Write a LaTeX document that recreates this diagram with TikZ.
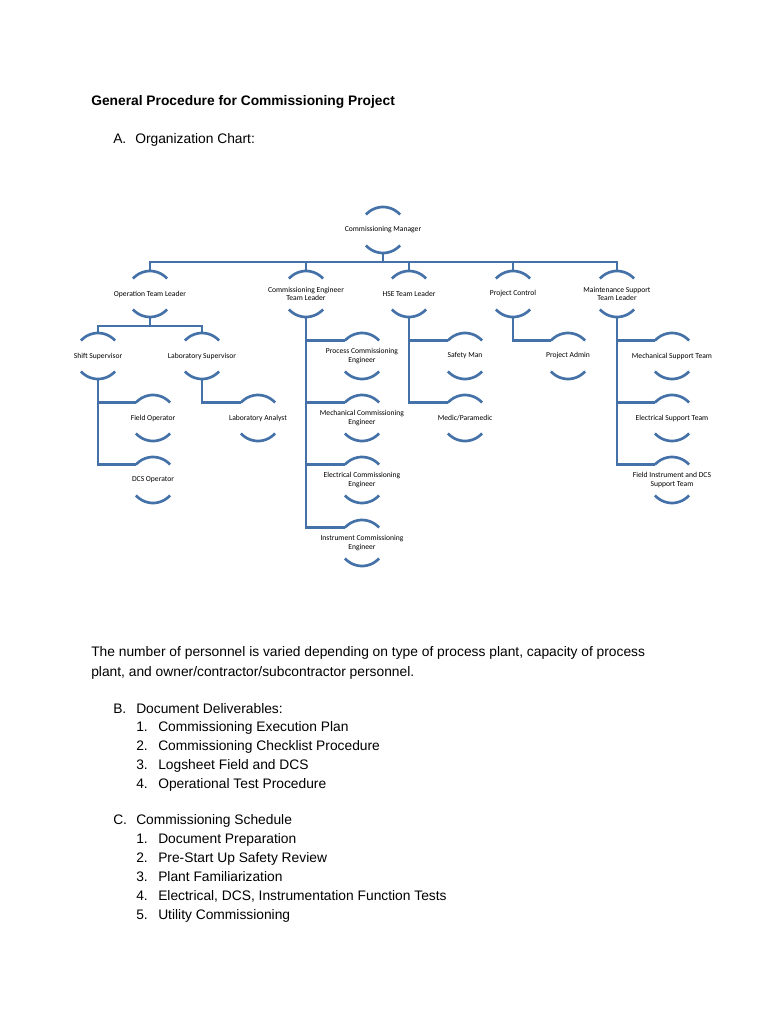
\documentclass[tikz,border=0pt]{standalone}
\usepackage{fontspec}
\setmainfont{Liberation Sans}
\newfontfamily\chartfont{Carlito}
\definecolor{orgblue}{RGB}{68,114,168}

\tikzset{
  chartlbl/.style={font=\chartfont\fontsize{5.7}{6.6}\selectfont, align=center, inner sep=0pt},
  member/.style={circle, minimum size=34.5pt, inner sep=0pt, outer sep=0pt,
    label={[chartlbl]center:#1}},
  link/.style={draw=orgblue, line width=2.2pt},
  arcline/.style={draw=orgblue, line width=2pt},
  body/.style={anchor=base west, inner sep=0pt, font=\fontsize{10.35}{12.5}\selectfont},
}

\begin{document}
\begin{tikzpicture}[x=0.75pt,y=-0.75pt]
\useasboundingbox (0,0) rectangle (768,1024);

% heading
\node[body,font=\bfseries\fontsize{10.35}{12.5}\selectfont] (title) at (91,105) {General Procedure for Commissioning Project};
\node[body] (secA) at (113,143) {A.};
\node[body] (secAt) at (135,143) {Organization Chart:};

% chart members
\node[member={Commissioning Manager}] (mgr) at (383,230) {};
\node[member={Operation Team Leader}] (otl) at (150,294) {};
\node[member={Commissioning Engineer\\Team Leader}] (cetl) at (306,294) {};
\node[member={HSE Team Leader}] (hse) at (409,294) {};
\node[member={Project Control}] (pctl) at (513,294) {};
\node[member={Maintenance Support\\Team Leader}] (mstl) at (617,294) {};

\node[member={Shift Supervisor}] (ssv) at (98,356) {};
\node[member={Laboratory Supervisor}] (lsv) at (202,356) {};
\node[member={Field Operator}] (fop) at (153,418) {};
\node[member={DCS Operator}] (dcs) at (153,480) {};
\node[member={Laboratory Analyst}] (lan) at (258,418) {};

\node[member={Process Commissioning\\Engineer}] (pce) at (362,356) {};
\node[member={Mechanical Commissioning\\Engineer}] (mce) at (362,418) {};
\node[member={Electrical Commissioning\\Engineer}] (ece) at (362,480) {};
\node[member={Instrument Commissioning\\Engineer}] (ice) at (362,543) {};

\node[member={Safety Man}] (sfm) at (465,356) {};
\node[member={Medic/Paramedic}] (med) at (465,418) {};
\node[member={Project Admin}] (pad) at (568,356) {};

\node[member={Mechanical Support Team}] (mst) at (672,356) {};
\node[member={Electrical Support Team}] (est) at (672,418) {};
\node[member={Field Instrument and DCS\\Support Team}] (fst) at (672,480) {};

% the two arcs of every member
\foreach \n in {mgr,otl,cetl,hse,pctl,mstl,ssv,lsv,fop,dcs,lan,pce,mce,ece,ice,sfm,med,pad,mst,est,fst}
  \draw[arcline] (\n.42) arc[start angle=42,end angle=138,radius=17.25pt]
                 (\n.222) arc[start angle=222,end angle=318,radius=17.25pt];

% links
\foreach \c in {otl,cetl,hse,pctl,mstl}
  \draw[link] (mgr.south) -- ++(0,9) -| (\c.north);
\foreach \c in {ssv,lsv}
  \draw[link] (otl.south) -- ++(0,9) -| (\c.north);
\foreach \c in {fop,dcs}
  \draw[link] (ssv.south) |- (\c.138);
\draw[link] (lsv.south) |- (lan.138);
\foreach \c in {pce,mce,ece,ice}
  \draw[link] (cetl.south) |- (\c.138);
\foreach \c in {sfm,med}
  \draw[link] (hse.south) |- (\c.138);
\draw[link] (pctl.south) |- (pad.138);
\foreach \c in {mst,est,fst}
  \draw[link] (mstl.south) |- (\c.138);

% text under the chart
\node[body] (par1) at (91,656) {The number of personnel is varied depending on type of process plant, capacity of process};
\node[body] (par2) at (91,676) {plant, and owner/contractor/subcontractor personnel.};

\node[body] (secB) at (113,713) {B.};
\node[body] (secBt) at (136,713) {Document Deliverables:};
\foreach \t [count=\i] in {Commissioning Execution Plan,Commissioning Checklist Procedure,Logsheet Field and DCS,Operational Test Procedure}{
  \node[body] (bn\i) at (136,{731+19*(\i-1)}) {\i.};
  \node[body] (b\i) at (158,{731+19*(\i-1)}) {\t};
}

\node[body] (secC) at (113,824) {C.};
\node[body] (secCt) at (136,824) {Commissioning Schedule};
\foreach \t [count=\i] in {Document Preparation,Pre-Start Up Safety Review,Plant Familiarization,{Electrical, DCS, Instrumentation Function Tests},Utility Commissioning}{
  \node[body] (cn\i) at (136,{843+19*(\i-1)}) {\i.};
  \node[body] (c\i) at (158,{843+19*(\i-1)}) {\t};
}
\end{tikzpicture}
\end{document}
